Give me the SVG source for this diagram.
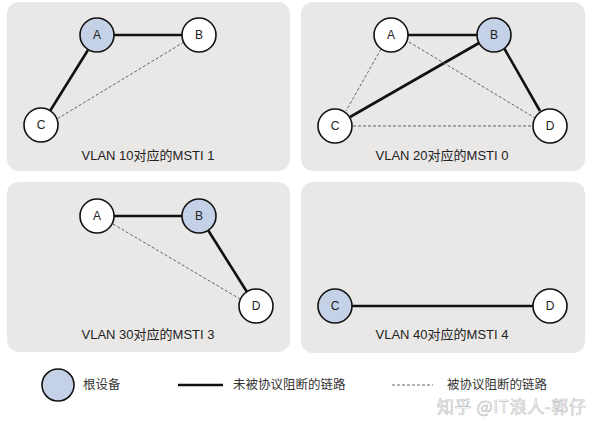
<svg xmlns="http://www.w3.org/2000/svg" width="598" height="421" viewBox="0 0 598 421">
<style>
.panel{fill:#e9e8e6;stroke:none}
.node{fill:#ffffff;stroke:#111;stroke-width:1.6}
.root{fill:#c5d1e6;stroke:#111;stroke-width:1.6}
.lbl{font-family:"Liberation Sans",Arial,sans-serif;font-size:12px;fill:#222;text-anchor:middle;dominant-baseline:central}
.cap{font-family:"Liberation Sans","Noto Sans CJK SC",sans-serif;font-size:13px;fill:#222;text-anchor:middle}
.thick{stroke:#111;stroke-width:2.6;fill:none}
.dash{stroke:#555;stroke-width:0.9;stroke-dasharray:3 2;fill:none}
.leg{font-family:"Noto Sans CJK SC",sans-serif;font-size:12.5px;fill:#333}
.wm{font-family:"Noto Sans CJK SC","Liberation Sans",sans-serif;font-size:17px;letter-spacing:0.6px;fill:#ffffff;fill-opacity:0.6;stroke:#9a9a9a;stroke-opacity:0.6;stroke-width:0.7}
</style>
<rect width="598" height="421" fill="#ffffff"/>
<g id="panels">
<rect class="panel" x="7" y="2" width="283" height="169" rx="12"/>
<rect class="panel" x="301" y="2" width="284" height="169" rx="12"/>
<rect class="panel" x="7" y="182" width="283" height="170" rx="12"/>
<rect class="panel" x="301" y="182" width="284" height="171" rx="12"/>
</g>
<g id="connectors">
<line class="thick" x1="114" y1="35" x2="182" y2="35"/>
<line class="thick" x1="88" y1="50" x2="50" y2="111"/>
<line class="dash" x1="184" y1="42" x2="57" y2="119"/>
<line class="thick" x1="408" y1="35" x2="477" y2="35"/>
<line class="thick" x1="350" y1="117" x2="479" y2="43"/>
<line class="thick" x1="504" y1="48" x2="540" y2="111"/>
<line class="dash" x1="381" y1="49" x2="346" y2="111"/>
<line class="dash" x1="409" y1="42" x2="535" y2="118"/>
<line class="dash" x1="353" y1="126" x2="533" y2="126"/>
<line class="thick" x1="114" y1="216" x2="182" y2="216"/>
<line class="thick" x1="208" y1="230" x2="247" y2="292"/>
<line class="dash" x1="113" y1="224" x2="240" y2="299"/>
<line class="thick" x1="352" y1="306" x2="533" y2="306"/>
</g>
<g id="p1-A"><circle class="root" cx="97" cy="35" r="17"/><text class="lbl" x="97" y="35">A</text></g>
<g id="p1-B"><circle class="node" cx="199" cy="35" r="17"/><text class="lbl" x="199" y="35">B</text></g>
<g id="p1-C"><circle class="node" cx="41" cy="125" r="17"/><text class="lbl" x="41" y="125">C</text></g>
<text class="cap" x="148" y="160">VLAN 10对应的MSTI 1</text>
<g id="p2-A"><circle class="node" cx="391" cy="35" r="17"/><text class="lbl" x="391" y="35">A</text></g>
<g id="p2-B"><circle class="root" cx="494" cy="35" r="17"/><text class="lbl" x="494" y="35">B</text></g>
<g id="p2-C"><circle class="node" cx="335" cy="126" r="17"/><text class="lbl" x="335" y="126">C</text></g>
<g id="p2-D"><circle class="node" cx="550" cy="126" r="17"/><text class="lbl" x="550" y="126">D</text></g>
<text class="cap" x="442" y="160">VLAN 20对应的MSTI 0</text>
<g id="p3-A"><circle class="node" cx="97" cy="216" r="17"/><text class="lbl" x="97" y="216">A</text></g>
<g id="p3-B"><circle class="root" cx="199" cy="216" r="17"/><text class="lbl" x="199" y="216">B</text></g>
<g id="p3-D"><circle class="node" cx="256" cy="306" r="17"/><text class="lbl" x="256" y="306">D</text></g>
<text class="cap" x="148" y="339">VLAN 30对应的MSTI 3</text>
<g id="p4-C"><circle class="root" cx="335" cy="306" r="17"/><text class="lbl" x="335" y="306">C</text></g>
<g id="p4-D"><circle class="node" cx="550" cy="306" r="17"/><text class="lbl" x="550" y="306">D</text></g>
<text class="cap" x="442" y="339">VLAN 40对应的MSTI 4</text>
<g id="legend">
<circle class="root" cx="58" cy="385" r="16"/>
<text class="leg" x="83" y="389">根设备</text>
<line class="thick" x1="178" y1="385" x2="223" y2="385"/>
<text class="leg" x="233" y="389">未被协议阻断的链路</text>
<line class="dash" x1="392" y1="385" x2="433" y2="385"/>
<text class="leg" x="447" y="389">被协议阻断的链路</text>
</g>
<text class="wm" x="437" y="413">知乎 @IT浪人-郭仔</text>
</svg>
